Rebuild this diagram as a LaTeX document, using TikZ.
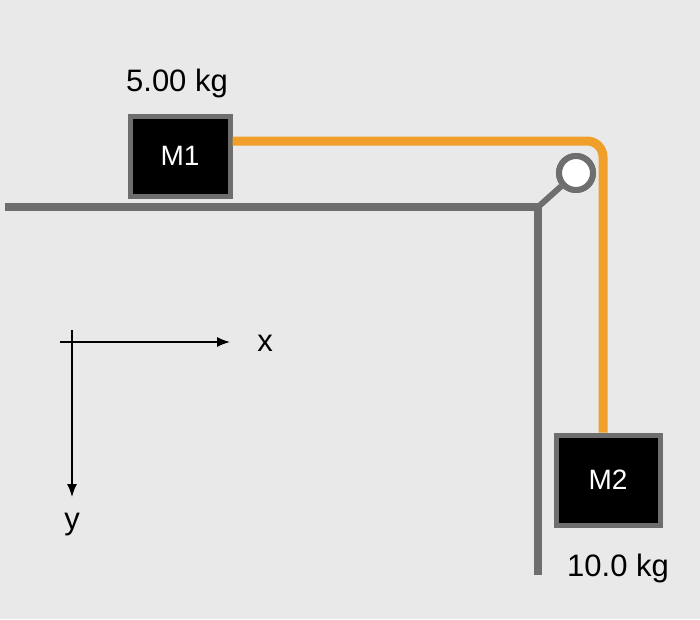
\documentclass[tikz,border=0pt]{standalone}
\usepackage{fontspec}
\setmainfont{Liberation Sans}
\usetikzlibrary{arrows.meta}
\definecolor{bg}{HTML}{E9E9E9}
\definecolor{gr}{HTML}{6E6E6E}
\definecolor{rope}{HTML}{F0A02A}
\tikzset{
 mass/.style={draw=gr,line width=5pt,fill=black,text=white,font=\fontsize{28}{32}\selectfont,minimum width=100pt,minimum height=80pt,inner sep=0},
 lbl/.style={font=\fontsize{31}{34}\selectfont},
 pul/.style={circle,draw=gr,line width=6pt,fill=white,minimum size=34pt,inner sep=0},
 axis/.style={line width=1.5pt,-{Latex[length=13pt,width=10pt]}}
}
\begin{document}
\begin{tikzpicture}[x=1pt,y=-1pt]
\fill[bg] (0,0) rectangle (700,619);
\useasboundingbox (0,0) rectangle (700,619);
% table
\coordinate (tl) at (5,207);
\coordinate (corner) at (538,207);
\coordinate (bot) at (538,575);
\draw[gr,line width=8pt] (tl) -- (corner) -- (bot);
% pulley
\node[pul] (p) at (576,173) {};
\draw[gr,line width=6pt] (corner) -- (p);
% masses
\node[mass] (m1) at (180,156) {M1};
\node[mass,minimum width=104pt,minimum height=90pt] (m2) at (608,480) {M2};
\draw[rope,line width=9pt,rounded corners=16pt] (m1.east|-0,141) -- (603,141) -- (m2.north-|603,0);
\node[pul] at (576,173) {};
\node[mass,minimum width=104pt,minimum height=90pt] at (608,480) {M2};
\node[lbl] (k1) at (177,83) {5.00 kg};
\node[lbl] (k2) at (618,568) {10.0 kg};
% axes
\coordinate (xo) at (60,342);
\coordinate (xe) at (230,342);
\coordinate (yo) at (72,330);
\coordinate (ye) at (72,497);
\draw[axis] (xo) -- (xe);
\draw[axis] (yo) -- (ye);
\node[lbl] (xl) at (265,343) {x};
\node[lbl] (yl) at (72,525) {y};
\end{tikzpicture}
\end{document}
